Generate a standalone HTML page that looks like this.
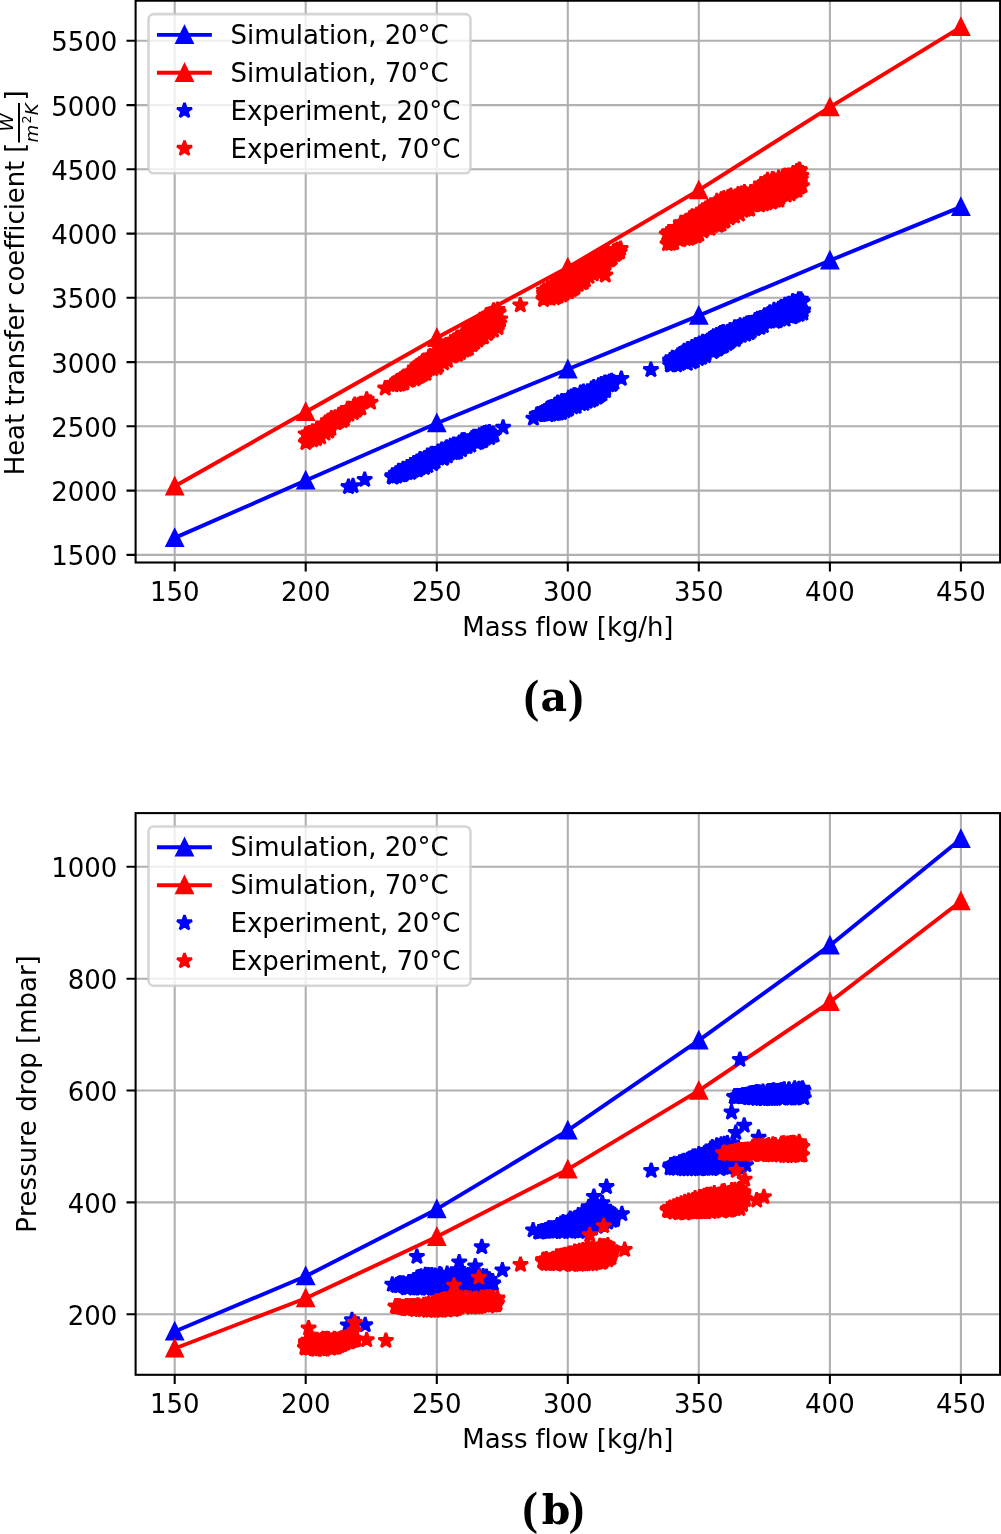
<!DOCTYPE html>
<html lang="en"><head><meta charset="utf-8"><title>Heat transfer coefficient and pressure drop vs mass flow</title>
<style>html,body{margin:0;padding:0;background:#fff}svg{display:block}text{font-family:"DejaVu Sans","Liberation Sans",sans-serif;font-size:26px;fill:#000;font-variant-ligatures:none;font-feature-settings:"liga" 0,"clig" 0;font-kerning:none}.cap{font-family:"Liberation Serif","DejaVu Serif",serif;font-weight:bold}</style>
</head><body>
<svg width="1001" height="1534" viewBox="0 0 1001 1534">
<defs>
<marker id="mb" markerUnits="userSpaceOnUse" markerWidth="20" markerHeight="20" refX="0" refY="0" viewBox="-10 -10 20 20" overflow="visible" orient="0"><path d="M0.00,-7.80 1.75,-2.41 7.42,-2.41 2.83,0.92 4.58,6.31 0.00,2.98 -4.58,6.31 -2.83,0.92 -7.42,-2.41 -1.75,-2.41Z" fill="#0000ff" stroke="#0000ff" stroke-width="2.6" stroke-linejoin="bevel"/></marker>
<marker id="mr" markerUnits="userSpaceOnUse" markerWidth="20" markerHeight="20" refX="0" refY="0" viewBox="-10 -10 20 20" overflow="visible" orient="0"><path d="M0.00,-7.80 1.75,-2.41 7.42,-2.41 2.83,0.92 4.58,6.31 0.00,2.98 -4.58,6.31 -2.83,0.92 -7.42,-2.41 -1.75,-2.41Z" fill="#ff0000" stroke="#ff0000" stroke-width="2.6" stroke-linejoin="bevel"/></marker>
<clipPath id="c0"><rect x="135.6" y="0.7" width="864.5" height="561.8"/></clipPath>
<clipPath id="c1"><rect x="135.6" y="813.1" width="864.5" height="561.7"/></clipPath>
</defs>
<rect width="1001" height="1534" fill="#fff"/>
<g clip-path="url(#c0)">
<path d="M174.7,0.7 V562.5 M305.7,0.7 V562.5 M436.8,0.7 V562.5 M567.8,0.7 V562.5 M698.8,0.7 V562.5 M829.9,0.7 V562.5 M960.9,0.7 V562.5 M135.6,554.9 H1000.1 M135.6,490.6 H1000.1 M135.6,426.3 H1000.1 M135.6,362.1 H1000.1 M135.6,297.8 H1000.1 M135.6,233.6 H1000.1 M135.6,169.3 H1000.1 M135.6,105.1 H1000.1 M135.6,40.8 H1000.1" stroke="#b0b0b0" stroke-width="2.08" fill="none"/>
<polyline points="174.7,537.9 305.7,480.5 436.8,423.2 567.8,369.3 698.8,315.6 829.9,260.5 960.9,206.9" fill="none" stroke="#0000ff" stroke-width="3.9" stroke-linejoin="round"/>
<path d="M174.7,530.1 l-7.8,15.6 h15.6Z" fill="#0000ff" stroke="#0000ff" stroke-width="2.6" stroke-linejoin="miter"/>
<path d="M305.7,472.7 l-7.8,15.6 h15.6Z" fill="#0000ff" stroke="#0000ff" stroke-width="2.6" stroke-linejoin="miter"/>
<path d="M436.8,415.4 l-7.8,15.6 h15.6Z" fill="#0000ff" stroke="#0000ff" stroke-width="2.6" stroke-linejoin="miter"/>
<path d="M567.8,361.5 l-7.8,15.6 h15.6Z" fill="#0000ff" stroke="#0000ff" stroke-width="2.6" stroke-linejoin="miter"/>
<path d="M698.8,307.8 l-7.8,15.6 h15.6Z" fill="#0000ff" stroke="#0000ff" stroke-width="2.6" stroke-linejoin="miter"/>
<path d="M829.9,252.7 l-7.8,15.6 h15.6Z" fill="#0000ff" stroke="#0000ff" stroke-width="2.6" stroke-linejoin="miter"/>
<path d="M960.9,199.1 l-7.8,15.6 h15.6Z" fill="#0000ff" stroke="#0000ff" stroke-width="2.6" stroke-linejoin="miter"/>
<polyline points="174.7,486.3 305.7,412.0 436.8,337.8 567.8,267.4 698.8,190.1 829.9,107.2 960.9,27.1" fill="none" stroke="#ff0000" stroke-width="3.9" stroke-linejoin="round"/>
<path d="M174.7,478.5 l-7.8,15.6 h15.6Z" fill="#ff0000" stroke="#ff0000" stroke-width="2.6" stroke-linejoin="miter"/>
<path d="M305.7,404.2 l-7.8,15.6 h15.6Z" fill="#ff0000" stroke="#ff0000" stroke-width="2.6" stroke-linejoin="miter"/>
<path d="M436.8,330.0 l-7.8,15.6 h15.6Z" fill="#ff0000" stroke="#ff0000" stroke-width="2.6" stroke-linejoin="miter"/>
<path d="M567.8,259.6 l-7.8,15.6 h15.6Z" fill="#ff0000" stroke="#ff0000" stroke-width="2.6" stroke-linejoin="miter"/>
<path d="M698.8,182.3 l-7.8,15.6 h15.6Z" fill="#ff0000" stroke="#ff0000" stroke-width="2.6" stroke-linejoin="miter"/>
<path d="M829.9,99.4 l-7.8,15.6 h15.6Z" fill="#ff0000" stroke="#ff0000" stroke-width="2.6" stroke-linejoin="miter"/>
<path d="M960.9,19.2 l-7.8,15.6 h15.6Z" fill="#ff0000" stroke="#ff0000" stroke-width="2.6" stroke-linejoin="miter"/>
<g fill="#0000ff" stroke="#0000ff" stroke-width="2.6" stroke-linejoin="round">
<polygon points="390.5,474.6 390.5,475.3 406.9,465.4 424.9,455.6 442.9,447.5 460.9,439.4 478.9,433.1 491.4,429.5 495.0,431.3 495.0,430.5 495.0,431.5 495.0,432.7 491.4,437.2 478.9,442.6 460.9,450.6 442.9,458.7 424.9,467.7 406.9,474.0 390.5,478.5 390.5,475.6"/>
<polygon points="535.0,417.0 537.4,413.6 547.0,407.4 563.0,398.7 578.9,391.5 594.9,385.1 607.7,380.3 616.0,378.7 616.0,378.5 616.0,379.5 616.0,381.7 607.7,389.7 594.9,399.2 578.9,405.6 563.0,412.8 547.0,415.2 537.4,414.6 535.0,418.0"/>
<polygon points="667.9,361.1 667.9,360.5 684.0,349.4 701.0,340.9 717.9,332.5 734.9,325.7 751.9,319.7 768.9,311.2 785.9,301.9 802.9,296.8 805.0,301.7 805.0,302.7 802.9,313.5 785.9,319.5 768.9,322.8 751.9,332.2 734.9,339.8 717.9,349.2 701.0,358.5 684.0,365.3 667.9,365.3 667.9,362.1"/>
</g>
<polyline points="348.5,486.8 353.0,485.9 364.7,479.6 503.1,427.5 621.3,378.6 650.9,369.8 533.4,418.5 418.6,468.8 424.9,465.9 407.1,467.1 483.1,439.3 423.6,461.8 405.1,470.7 431.8,454.0 449.6,453.4 424.4,467.6 416.9,462.4 484.3,433.1 489.1,433.0 480.7,437.7 397.0,474.6 485.5,438.4 489.7,437.9 493.1,433.6 437.1,453.4 447.1,449.7 420.1,459.2 453.6,444.6 412.9,467.1 475.4,440.8 470.2,441.0 430.1,458.8 403.0,469.6 435.1,461.7 478.8,442.5 464.7,442.2 427.8,462.2 417.0,461.7 422.9,464.2 489.2,434.4 435.0,455.9 470.4,442.2 472.2,438.7 412.2,466.4 494.0,435.2 471.9,438.2 412.1,468.0 438.1,454.3 423.0,466.6 420.2,460.0 467.1,442.0 398.6,471.0 457.6,447.4 407.3,472.9 476.8,441.8 410.6,469.7 428.0,457.5 422.9,459.6 392.4,476.0 396.6,475.2 475.9,437.0 471.8,439.7 413.9,463.1 493.0,433.9 405.4,472.3 433.0,462.5 426.7,457.9 484.5,438.1 434.4,461.2 405.1,472.7 493.6,435.0 417.3,468.8 475.7,438.6 473.7,436.9 444.0,457.3 483.6,437.4 461.1,443.0 427.5,455.6 488.0,436.4 489.5,432.1 456.7,448.0 431.2,458.3 403.2,469.0 438.0,451.7 452.3,448.1 451.5,451.5 400.2,475.2 402.5,474.8 484.7,438.2 482.2,437.9 492.3,435.7 444.5,454.8 421.6,464.4 410.4,471.4 476.1,440.6 463.7,441.7 411.1,472.1 489.3,434.7 433.8,454.3 409.7,468.0 415.2,466.2 395.7,475.4 470.6,445.1 408.3,468.7 413.7,470.4 417.0,463.1 434.8,454.2 398.8,471.9 474.7,437.5 462.8,444.2 474.3,440.6 457.7,452.2 460.9,447.2 413.7,470.4 448.1,449.2 424.8,464.6 459.2,442.7 462.0,440.5 420.4,467.9 410.6,465.1 446.2,455.0 420.9,461.6 450.3,445.9 423.6,464.3 488.3,435.1 396.5,474.2 441.4,453.9 426.9,461.7 461.4,444.0 472.3,438.9 463.6,440.8 454.9,446.0 470.6,445.2 470.7,439.9 424.4,467.5 479.2,438.2 392.3,477.0 419.2,461.2 414.6,465.3 438.7,458.4 442.5,458.0 403.4,474.1 427.8,465.8 400.9,471.1 476.0,437.9 395.7,474.0 458.7,447.3 424.7,458.3 479.3,435.5 458.8,448.5 478.2,437.4 478.6,437.2 418.0,464.8 475.7,439.9 464.6,446.9 417.1,466.8 431.2,454.8 462.1,447.4 441.7,449.6 482.0,434.1 481.2,441.2 431.6,457.7 447.4,456.2 410.5,472.6 398.9,472.7 400.9,473.7 492.7,434.3 396.7,476.1 445.3,448.9 443.3,458.6 486.2,432.6 408.0,471.7 396.6,476.1 404.6,471.3 461.4,450.0 473.7,438.6 393.5,476.5 419.5,467.9 446.7,447.5 449.0,449.7 461.9,448.2 396.5,475.8 465.2,442.8 451.6,448.6 457.7,446.2 449.8,452.7 449.0,451.7 396.2,473.4 443.2,450.6 415.1,463.5 401.3,474.9 427.5,460.6 464.2,440.1 403.8,471.8 393.0,477.5 401.1,474.8 432.0,461.4 450.4,451.2 488.2,433.5 427.7,460.1 431.6,461.3 430.7,454.9 410.6,465.8 453.1,446.3 452.8,452.8 455.3,452.9 442.8,451.9 482.6,441.0 432.6,464.0 409.4,469.4 421.5,463.9 453.2,447.7 467.0,446.8 417.3,470.1 476.9,442.9 557.7,409.7 605.0,382.8 537.1,414.9 601.6,389.9 550.3,413.7 551.2,407.2 598.2,394.3 571.5,399.2 564.1,405.5 548.4,414.3 583.5,394.7 591.8,398.2 571.2,396.8 538.4,414.5 609.4,383.6 568.6,408.8 583.5,391.6 547.7,409.0 564.2,404.2 611.7,381.0 561.3,404.3 564.9,401.1 551.5,413.7 596.6,396.9 564.4,405.6 586.9,397.9 568.6,397.9 562.4,406.2 604.7,388.3 600.3,392.2 547.9,408.6 548.6,414.6 554.2,413.8 581.1,393.4 540.4,413.9 605.7,388.2 556.1,413.6 537.9,414.6 558.4,413.3 581.4,400.9 554.3,407.2 581.3,394.9 585.2,393.1 561.0,406.1 605.5,390.9 605.3,389.4 592.6,390.7 611.8,384.6 608.9,385.2 602.0,391.8 601.7,384.8 557.7,402.8 574.4,402.6 538.3,414.5 536.7,415.0 576.1,406.6 547.8,414.9 573.1,397.8 546.7,409.4 591.3,396.4 592.2,391.8 564.4,406.7 564.8,403.7 584.7,400.8 595.8,389.5 548.9,408.0 548.4,409.5 611.6,381.5 561.3,408.8 601.9,394.1 613.4,382.6 606.0,384.8 587.4,391.7 556.5,406.1 552.2,409.6 594.4,390.3 598.1,390.9 589.5,399.5 579.3,401.6 598.5,385.5 575.8,405.5 591.4,388.8 585.7,399.3 590.9,399.5 561.7,411.2 600.1,388.4 560.9,402.9 590.8,400.7 543.5,413.3 582.2,393.4 606.7,382.9 607.3,383.8 541.6,414.1 554.8,405.2 540.3,413.9 564.8,409.9 582.1,393.5 561.4,412.8 601.8,387.2 613.1,382.2 581.1,400.3 604.5,383.2 564.3,403.7 567.7,409.7 592.7,398.9 547.8,410.9 587.1,401.6 613.9,382.5 542.4,412.8 598.8,387.0 555.2,411.9 585.3,393.4 593.8,387.2 544.3,414.0 583.3,401.7 576.4,397.7 599.5,395.6 582.1,395.5 542.4,413.9 612.0,384.4 580.5,392.6 579.1,402.3 572.7,407.2 555.7,412.5 538.8,414.3 562.7,406.3 575.6,395.7 584.8,398.6 576.5,400.6 564.2,408.3 561.8,401.2 565.0,411.0 593.5,399.2 601.2,384.1 550.8,414.4 580.6,404.0 568.1,402.8 604.5,388.9 609.5,381.6 573.8,395.7 584.0,403.6 555.5,404.8 553.0,410.1 544.6,411.2 574.3,395.5 597.7,396.8 611.0,384.1 596.9,397.4 603.7,390.6 611.4,383.0 564.7,406.0 601.9,387.5 788.7,306.1 715.6,337.2 722.6,332.7 780.9,318.2 784.9,311.9 788.7,303.9 716.9,347.2 683.1,352.8 760.4,318.1 799.1,311.4 706.2,352.3 709.0,350.3 780.9,317.5 714.3,343.7 684.1,361.6 716.3,337.2 777.2,316.8 793.2,301.7 687.3,363.7 724.0,332.8 745.9,331.2 734.6,327.4 720.0,346.8 723.3,332.4 798.7,309.8 694.2,349.9 752.4,324.1 730.1,330.3 791.5,306.8 753.0,328.2 760.0,327.7 795.8,303.5 741.2,335.6 776.8,310.9 720.6,345.8 696.5,353.5 673.7,360.6 775.0,321.6 782.1,307.7 737.4,330.8 772.4,319.3 750.5,326.7 792.7,301.5 722.3,339.4 790.6,313.7 673.0,362.2 671.6,364.8 696.6,351.2 696.8,346.5 670.4,365.0 693.0,360.7 767.0,318.0 717.3,349.3 683.2,352.6 762.3,319.0 746.9,325.6 716.8,340.2 691.9,347.3 786.2,305.6 734.9,337.0 711.3,338.1 769.9,312.5 776.9,315.9 715.6,349.4 792.9,310.0 785.1,319.5 727.6,332.3 688.9,357.1 774.5,320.9 802.5,301.8 714.4,339.0 700.6,345.7 705.9,354.0 729.0,342.3 758.0,326.6 751.9,322.9 796.1,302.1 701.7,355.9 745.5,334.5 677.3,357.0 682.1,358.2 672.4,364.6 784.1,308.3 712.9,340.2 792.3,304.7 689.5,349.5 691.7,362.2 761.0,322.4 738.0,336.1 741.5,326.8 719.3,334.1 798.1,307.9 746.5,332.4 745.1,327.3 790.1,314.0 790.9,309.7 764.7,319.7 688.3,356.3 771.1,313.1 757.4,319.0 704.0,355.1 739.2,328.5 703.3,354.5 778.2,313.1 716.5,335.2 748.9,332.9 782.6,308.5 702.7,353.3 676.4,358.7 762.5,320.5 771.5,314.4 728.8,334.6 672.3,358.0 799.5,310.1 801.8,301.5 735.2,339.9 731.4,334.6 781.1,307.3 724.1,340.6 795.5,315.4 793.9,302.4 795.3,306.9 773.8,320.6 712.6,351.8 729.1,341.2 685.7,359.8 719.4,343.2 759.1,319.3 759.2,325.2 677.7,356.6 701.5,357.7 751.2,331.2 780.4,319.5 744.2,325.6 770.7,315.7 696.2,354.4 747.7,326.8 786.4,310.9 755.8,321.1 742.4,329.5 685.4,353.4 728.4,336.4 730.8,331.9 676.9,362.1 690.1,351.7 784.1,307.5 780.4,308.1 706.7,342.1 752.3,328.5 695.2,345.5 747.4,326.4 720.5,347.0 755.1,320.1 737.9,331.2 793.2,304.2 713.6,337.2 740.1,325.4 677.3,359.5 746.7,323.6 743.3,333.4 699.3,343.7 670.2,362.4 781.9,311.6 795.5,313.2 711.5,341.1 744.5,325.6 748.8,323.3 749.2,330.8 679.7,363.1 681.4,354.3 723.9,332.8 770.1,318.6 763.3,325.8 802.9,310.1 739.4,333.7 774.0,309.9 691.5,355.1 780.7,308.5 675.2,363.6 765.6,317.1 749.2,327.2 802.8,313.3 769.3,313.8 725.5,339.1 720.5,333.7 770.3,317.8 731.7,334.8 687.6,349.1 733.7,333.9 749.3,324.1 797.0,313.7 784.9,305.0 709.5,339.3 694.3,360.8 682.0,361.5 764.6,315.5 760.5,322.6 703.1,346.9 693.5,358.1 722.0,343.1 679.9,363.0 670.1,360.3 709.4,344.1 719.2,338.5 782.7,316.8 702.6,341.9 679.7,360.8 713.1,338.5 676.7,365.1 696.0,351.1 706.0,342.1 692.3,360.9 708.6,349.6 754.1,324.1 775.5,316.6 713.3,336.5 733.6,337.8 764.5,321.9 767.6,317.2 759.7,324.3 791.6,317.1 784.4,312.8 735.5,338.2 778.5,312.0 776.7,314.8 775.7,313.2 698.4,358.8 769.9,317.2 796.3,304.0 730.4,339.6 721.1,341.1 778.0,313.8 702.3,353.4 795.2,308.7 675.2,363.7 761.2,323.9 683.1,359.0 694.6,350.3 778.0,312.3 708.9,342.1 760.4,318.5 729.5,339.3 749.7,332.6 684.1,350.9 789.1,312.9 798.5,299.4 702.5,351.2 723.6,345.8 706.3,343.9 777.3,320.9 714.1,342.7 736.7,337.5 776.5,320.9 788.7,314.0 737.8,327.1 789.1,316.4 677.2,363.5 775.7,317.4 763.3,320.0 700.3,354.6 677.0,362.0 670.6,365.1 786.0,308.1 731.5,330.8 756.8,327.5 727.0,343.9 720.4,342.4 732.9,339.3 792.7,301.6 718.0,343.9 699.6,357.1 722.0,343.6 799.0,314.6 764.9,317.7 793.0,316.7 721.9,332.9 748.5,327.2 718.2,348.5 758.3,319.7 699.5,351.8 786.9,305.7 798.9,314.1 778.5,308.9 754.7,329.0 720.6,333.2 781.7,307.8 770.3,313.9 685.3,356.9 755.1,328.7 681.4,356.0 730.0,338.4 803.0,310.4 696.6,345.4 734.4,338.2 708.5,344.1 709.0,341.7 797.4,307.7 781.4,317.2 705.5,355.8 679.8,354.3 800.4,308.9 676.4,358.7 781.3,309.5 730.4,341.2 715.0,344.5 687.2,357.7 768.3,314.7 674.1,361.3 792.5,310.1 737.6,336.2 735.9,333.4 797.6,305.4 696.1,348.2 671.8,359.6 740.9,329.9 722.5,346.4 709.3,340.3 725.0,340.3 760.5,320.7 787.1,304.9 779.9,317.5 801.0,299.5 755.4,322.4 739.9,331.4 770.1,321.3 741.4,329.3 713.9,350.9 744.4,325.0 761.3,318.1 682.6,360.4 749.5,328.0 785.5,316.3 766.3,320.3 713.9,348.8 738.9,329.3 677.2,362.1" fill="none" stroke="none" marker-start="url(#mb)" marker-mid="url(#mb)" marker-end="url(#mb)"/>
<g fill="#ff0000" stroke="#ff0000" stroke-width="2.6" stroke-linejoin="round">
<polygon points="304.4,437.8 305.6,432.8 320.0,425.6 332.0,416.1 344.0,411.3 350.0,406.5 356.0,403.5 362.0,402.5 362.0,403.5 362.0,404.5 362.0,409.5 356.0,412.0 350.0,415.0 344.0,419.8 332.0,428.2 320.0,437.8 305.6,443.2 304.4,438.8"/>
<polygon points="391.0,385.5 391.0,383.6 402.0,376.4 418.0,363.6 437.1,349.2 449.9,341.3 465.9,330.9 481.9,315.7 494.7,307.7 502.0,309.3 502.0,312.5 502.0,319.5 502.0,323.5 494.7,329.9 481.9,337.8 465.9,350.6 449.9,358.6 437.1,367.4 418.0,377.8 402.0,384.2 391.0,385.8 391.0,386.5"/>
<polygon points="541.4,293.0 541.4,290.2 555.0,281.8 569.0,273.5 582.9,265.1 596.9,256.7 610.9,249.7 620.7,246.9 623.0,248.0 623.0,249.0 620.7,250.7 610.9,259.1 596.9,273.0 582.9,282.8 569.0,291.9 555.0,298.2 541.4,300.3 541.4,294.0"/>
<polygon points="665.3,243.9 667.0,232.3 684.0,219.5 701.0,210.2 717.9,199.1 734.9,193.2 745.1,189.8 755.3,191.5 762.1,179.6 779.1,176.2 794.4,171.1 802.9,166.0 805.0,172.0 805.0,177.7 802.9,188.7 794.4,191.2 779.1,200.6 762.1,204.8 755.3,207.4 745.1,211.6 734.9,216.7 717.9,226.1 701.0,234.5 684.0,240.5 667.0,244.7 665.3,244.9"/>
</g>
<polyline points="349.3,409.0 312.4,431.4 341.5,413.6 308.8,433.2 349.4,412.1 334.5,422.5 343.9,413.3 355.8,408.5 308.9,440.5 339.2,418.8 329.4,425.4 346.1,413.8 346.2,414.1 356.0,410.6 357.5,408.7 343.0,417.2 352.5,409.8 309.9,434.1 355.9,408.4 320.3,430.2 358.2,405.1 305.7,434.1 325.0,433.3 360.9,408.1 312.9,438.9 316.8,428.6 316.4,437.8 348.9,414.4 330.3,426.4 356.7,407.7 353.7,406.5 336.8,420.5 327.9,421.0 350.5,410.1 342.2,420.9 330.4,425.2 336.3,423.0 317.9,431.1 338.7,415.8 345.8,412.4 318.6,428.7 315.1,433.5 330.0,420.3 327.7,425.1 312.7,440.1 311.2,434.1 338.7,421.4 316.4,438.8 344.4,419.2 315.0,433.0 314.3,436.4 320.6,437.2 345.1,416.2 343.1,415.8 357.6,408.9 305.9,442.8 310.1,436.8 353.3,412.8 326.5,428.6 321.2,427.6 359.7,404.8 335.0,417.4 357.1,407.1 345.7,413.5 328.7,431.4 338.9,415.0 324.4,424.9 325.1,428.3 332.2,421.7 314.0,435.3 306.8,441.1 339.2,417.4 331.4,418.2 330.9,428.6 316.0,431.9 354.2,408.3 337.4,421.4 366.7,399.4 370.5,402.5 354.8,404.7 347.5,409.0 385.2,388.3 520.3,305.2 605.3,275.3 438.1,365.0 482.8,320.2 410.5,380.0 400.7,380.2 472.0,342.1 428.8,357.0 429.6,368.8 421.7,374.7 476.1,324.3 413.8,371.9 454.1,341.2 397.2,381.1 448.3,351.1 403.9,376.7 446.5,347.7 456.8,337.9 423.4,373.8 419.5,367.4 433.2,356.3 498.7,312.5 489.9,314.2 461.9,336.4 478.5,335.3 457.5,354.6 394.6,383.8 446.8,353.2 471.7,342.2 471.2,331.2 452.3,348.3 478.7,323.4 403.5,383.4 453.8,340.5 445.3,345.7 460.1,347.8 474.6,342.7 420.2,365.6 423.5,361.6 441.5,353.5 393.2,384.0 422.3,362.5 447.0,357.8 436.9,367.9 470.6,340.0 461.0,349.4 427.7,368.3 488.9,316.9 397.1,381.6 497.9,327.8 477.1,339.5 479.3,336.2 438.6,365.5 483.0,319.0 466.8,339.3 421.5,364.2 408.0,377.6 440.2,349.2 426.7,370.6 468.4,348.5 488.1,327.7 486.4,328.1 401.8,383.1 399.6,384.3 493.9,320.9 460.5,352.8 486.2,315.4 396.9,384.8 480.8,327.0 492.4,325.3 480.8,323.5 483.1,319.3 392.8,384.4 465.3,333.2 415.3,378.1 415.4,373.9 495.2,312.0 416.3,377.7 393.4,384.8 471.6,337.4 470.1,329.3 425.4,362.8 451.1,356.2 480.9,337.7 436.8,352.1 470.4,328.5 397.4,384.0 472.0,331.4 406.8,378.5 414.8,368.1 418.9,365.2 436.2,357.0 487.8,330.1 465.0,345.3 487.7,333.4 466.2,344.6 404.0,378.2 441.1,352.6 461.8,339.0 401.7,383.2 468.7,341.4 400.6,379.2 471.5,335.6 443.6,363.1 422.1,362.5 431.5,361.5 402.4,380.1 434.6,357.8 426.3,363.2 499.2,323.4 411.6,372.9 497.5,309.7 404.5,377.1 455.7,347.7 421.8,364.0 400.5,383.9 404.0,382.1 472.3,344.8 421.0,375.5 432.8,360.1 472.7,331.8 492.4,313.2 407.8,376.1 442.7,347.0 414.7,379.1 452.8,351.0 447.4,360.6 493.5,330.4 419.0,376.6 423.0,364.6 489.7,318.2 426.1,361.7 392.9,384.9 426.0,364.1 409.7,375.9 446.0,358.5 407.0,375.8 407.0,376.8 475.2,335.5 477.5,340.5 466.7,349.4 398.6,380.7 430.0,356.3 445.8,351.4 400.6,382.4 463.6,335.0 465.4,337.9 489.5,331.7 469.7,345.1 393.1,384.4 451.1,342.5 399.9,383.6 417.4,365.9 410.1,375.5 445.0,346.2 417.2,377.1 454.1,351.4 435.6,359.7 449.4,346.8 441.2,353.1 473.5,337.8 444.2,357.2 398.1,381.2 413.1,374.0 400.7,380.8 483.5,337.1 455.5,353.8 447.7,347.2 452.2,356.1 403.6,382.2 397.0,383.9 497.9,326.0 500.2,319.1 473.7,337.4 472.3,327.7 431.5,367.8 400.5,380.1 478.3,339.3 417.6,376.5 453.7,355.4 435.0,360.4 481.0,328.4 408.8,380.6 400.3,382.9 493.6,310.4 488.7,325.8 443.8,354.6 414.3,373.6 487.2,333.9 426.0,373.7 464.0,350.5 408.6,374.9 468.5,330.1 446.2,345.3 474.4,329.9 442.9,349.0 407.7,377.7 497.4,319.5 459.8,345.1 405.8,378.2 432.9,368.8 419.6,364.1 463.7,336.3 399.2,380.9 460.6,351.6 392.9,384.9 409.3,378.5 394.6,383.4 448.2,349.2 402.3,378.0 493.3,312.3 424.2,366.7 563.0,288.0 586.1,265.1 583.2,282.7 568.8,275.4 590.0,270.8 562.0,295.3 579.6,269.4 607.4,260.2 574.0,281.0 600.3,267.0 562.4,279.9 583.6,272.3 574.7,285.4 601.6,266.3 578.2,284.6 615.8,251.6 599.8,268.6 606.0,263.4 602.2,257.4 576.4,281.3 589.0,276.7 604.6,256.8 576.2,284.0 550.6,292.3 554.6,298.2 589.7,272.0 578.0,276.7 604.5,258.0 562.4,282.8 610.1,259.6 543.6,299.8 602.8,264.4 595.1,261.1 548.0,288.6 597.5,272.6 607.9,254.4 581.4,271.3 555.9,293.1 553.1,290.4 583.9,280.7 604.6,265.5 550.3,291.7 546.1,297.2 591.6,271.6 580.1,270.0 585.4,280.2 567.5,279.2 580.8,268.7 587.4,269.7 616.8,253.7 614.7,251.0 563.4,290.7 620.6,248.7 583.1,267.3 580.2,281.4 568.9,291.5 568.6,291.6 610.8,254.7 557.4,281.8 558.5,283.1 596.2,260.1 605.3,259.7 574.9,285.9 596.1,261.4 604.8,264.3 571.8,289.8 613.2,252.3 612.2,257.7 578.9,271.9 608.6,253.4 543.6,298.8 583.0,267.2 564.1,293.6 612.4,254.5 590.6,267.0 546.3,291.7 572.1,281.5 600.0,259.3 547.6,288.3 550.2,298.7 593.1,261.9 546.3,294.6 600.8,258.8 571.1,275.2 550.1,294.0 615.5,251.8 548.2,291.5 581.6,282.8 598.6,263.5 602.3,255.9 554.5,287.7 593.2,274.0 574.9,287.4 593.2,260.2 551.2,288.1 543.9,290.4 567.2,291.8 615.9,253.5 544.0,293.1 619.2,250.6 617.5,249.9 611.3,258.4 601.5,256.3 574.1,288.3 607.1,259.9 554.2,284.5 582.5,272.9 617.1,249.9 582.2,268.7 544.9,295.6 561.4,286.0 560.3,280.2 571.5,276.7 618.1,252.2 592.9,261.9 575.6,271.6 552.4,287.4 560.2,286.4 558.5,292.7 599.7,265.5 604.3,255.4 579.1,271.5 567.5,285.2 600.5,266.4 551.6,291.8 560.1,286.0 606.3,260.0 555.1,296.3 589.4,264.4 613.8,254.1 575.1,275.9 564.8,281.0 593.2,274.2 558.2,296.3 619.6,252.2 610.7,259.1 594.1,262.9 608.8,260.2 615.1,254.8 544.3,295.2 568.1,281.5 545.7,294.7 556.5,296.9 571.0,280.7 554.2,286.7 608.9,254.8 575.9,280.3 582.8,270.4 563.8,279.4 552.7,288.0 592.1,265.7 588.3,268.4 606.9,252.7 607.6,254.4 698.7,225.8 730.0,216.6 686.7,229.3 768.1,201.7 784.6,176.0 780.3,191.5 731.1,216.2 775.7,183.0 791.6,186.1 766.8,203.2 799.7,183.5 787.3,186.3 702.9,220.2 715.4,223.4 711.5,217.5 725.6,211.5 759.3,188.9 675.1,233.1 680.9,223.0 691.6,218.6 714.2,206.8 781.9,191.3 735.2,208.3 680.9,234.8 798.2,172.3 774.3,193.1 766.3,182.6 719.8,214.7 780.6,195.3 750.4,202.7 678.7,238.3 765.4,187.0 796.2,175.5 669.1,232.3 752.6,192.7 743.9,199.9 787.0,190.9 721.5,199.7 678.6,234.2 796.1,188.8 677.3,236.2 738.1,194.3 726.8,215.7 773.9,179.7 801.2,175.8 742.7,210.6 771.0,182.2 692.8,236.7 779.8,197.8 753.7,193.2 732.4,205.1 798.4,184.3 788.5,186.8 733.1,215.2 706.9,227.3 800.8,179.2 794.3,173.6 746.7,208.9 763.7,191.6 762.6,189.5 756.2,203.4 710.1,228.7 671.6,235.5 675.7,236.3 752.6,194.1 753.5,199.9 784.4,183.7 786.2,195.3 789.3,191.9 773.9,191.7 799.9,182.4 724.0,207.8 687.8,237.0 710.2,212.8 782.0,180.1 773.6,200.4 734.4,202.5 683.2,236.9 669.8,232.1 790.1,194.1 696.3,236.1 701.6,221.0 774.4,194.6 735.3,202.8 731.7,207.6 783.5,177.5 782.8,176.7 737.8,195.9 785.5,178.3 708.1,223.7 764.8,192.5 728.9,204.0 673.7,242.7 701.1,213.9 799.8,170.1 749.6,209.2 773.9,182.0 730.1,199.6 767.5,180.0 707.9,207.3 669.4,240.6 791.5,180.2 775.7,186.7 743.7,205.3 794.8,190.5 794.1,177.4 705.6,208.7 723.8,221.2 746.9,203.7 755.1,198.0 702.9,231.1 689.5,218.5 671.6,239.7 716.4,224.9 798.3,175.2 788.1,182.3 723.9,198.3 754.9,202.0 700.0,228.7 702.8,229.8 695.9,217.3 692.5,217.4 688.3,230.7 779.8,184.9 769.3,201.3 721.1,224.2 703.4,218.7 772.8,186.9 785.2,187.7 745.3,202.1 772.9,197.6 731.8,205.0 774.9,186.1 691.2,237.4 768.1,183.8 753.8,194.0 778.6,177.8 680.8,226.6 714.0,216.0 747.0,207.1 673.1,243.0 695.1,223.2 774.2,200.4 787.5,179.7 667.5,244.0 711.5,208.6 704.0,221.4 680.9,239.9 692.9,235.5 738.1,202.4 747.3,195.2 693.2,219.8 789.5,176.3 729.1,197.0 729.4,214.1 707.1,220.6 670.5,243.6 707.6,228.0 669.0,232.4 796.6,171.3 715.5,212.2 674.0,236.5 802.0,186.0 722.0,211.5 675.0,234.7 788.8,190.2 696.6,218.0 737.5,197.0 709.1,216.6 780.4,183.1 674.7,232.0 725.1,220.7 743.6,196.4 717.3,221.7 776.2,187.2 729.7,198.5 760.9,184.2 742.5,209.1 702.2,217.8 772.5,195.4 738.8,198.0 706.9,210.0 702.7,210.4 703.1,215.4 757.5,190.0 745.3,195.0 686.5,224.3 772.3,179.2 722.8,215.3 760.3,196.9 760.2,187.0 750.7,192.1 760.3,192.5 793.1,173.1 763.6,204.1 688.3,223.7 685.4,222.5 775.3,195.2 677.9,230.7 749.3,209.5 748.3,204.3 793.8,176.2 724.1,221.5 666.8,234.3 783.6,191.8 729.2,218.2 764.2,195.4 678.7,239.7 724.2,217.2 794.0,178.9 784.3,186.3 675.2,228.4 778.2,188.5 730.9,195.8 799.4,187.3 774.9,182.4 696.0,228.9 725.7,213.1 739.5,214.4 688.9,224.9 668.6,232.8 788.0,175.6 733.3,207.8 775.8,182.0 775.9,200.4 695.9,217.8 719.4,224.7 743.9,204.7 753.2,204.8 703.1,215.7 782.1,195.0 771.6,198.1 745.4,200.1 772.0,184.0 777.0,193.7 754.1,205.1 764.8,182.7 672.0,240.3 798.7,171.8 797.4,183.8 797.8,175.6 798.4,177.1 702.7,228.4 769.4,198.0 789.1,190.4 766.4,184.1 698.2,229.2 755.7,204.4 774.8,194.4 721.2,202.4 712.9,225.9 762.4,201.1 785.0,176.0 743.2,195.6 750.1,203.9 700.4,218.8 724.1,208.6 741.1,196.0 688.9,238.7 795.6,177.2 759.6,198.3 752.2,197.9 726.3,207.6 720.0,212.1 775.6,182.6 765.5,201.1 718.0,203.3 706.9,209.3 729.8,208.6 718.0,225.6 785.7,185.1 692.3,216.5 704.3,229.2 773.5,194.2 771.8,202.3 744.4,192.3 749.3,199.2 776.9,195.7 753.9,202.7 752.4,203.6 735.7,196.5 685.6,238.9 734.9,206.5 754.3,204.5 750.0,203.5 792.3,191.9 698.9,226.3 734.5,216.2 726.3,202.3 696.3,229.5 699.9,212.6 745.9,193.9 774.2,191.6 677.0,227.7 797.1,190.4 769.1,189.5 738.1,203.8 720.8,221.6 686.0,229.6 745.4,209.6 768.1,190.1 778.8,200.5 781.6,187.2 672.2,232.6 761.4,194.3 684.1,237.1 724.5,205.9 759.8,205.2 741.3,193.6 695.2,220.4 759.4,195.1 762.2,189.4 699.4,216.8 669.8,233.1 754.1,205.0 799.2,169.6 757.7,204.5 716.9,200.9 727.9,197.5 678.5,235.5 729.0,211.0 711.2,206.2 691.4,217.5 780.3,190.7 721.2,199.5 796.7,183.7 701.1,221.2 698.8,234.4 670.4,233.8 754.0,194.4 768.0,201.0 781.3,181.3 734.9,197.1 774.5,199.5 769.8,197.0 781.6,185.1" fill="none" stroke="none" marker-start="url(#mr)" marker-mid="url(#mr)" marker-end="url(#mr)"/>
</g>
<rect x="135.6" y="0.7" width="864.5" height="561.8" fill="none" stroke="#000" stroke-width="2.08"/>
<path d="M174.7,562.5 v9.1 M305.7,562.5 v9.1 M436.8,562.5 v9.1 M567.8,562.5 v9.1 M698.8,562.5 v9.1 M829.9,562.5 v9.1 M960.9,562.5 v9.1 M135.6,554.9 h-9.1 M135.6,490.6 h-9.1 M135.6,426.3 h-9.1 M135.6,362.1 h-9.1 M135.6,297.8 h-9.1 M135.6,233.6 h-9.1 M135.6,169.3 h-9.1 M135.6,105.1 h-9.1 M135.6,40.8 h-9.1" stroke="#000" stroke-width="2.08" fill="none"/>
<text x="174.7" y="600.6" text-anchor="middle">150</text>
<text x="305.7" y="600.6" text-anchor="middle">200</text>
<text x="436.8" y="600.6" text-anchor="middle">250</text>
<text x="567.8" y="600.6" text-anchor="middle">300</text>
<text x="698.8" y="600.6" text-anchor="middle">350</text>
<text x="829.9" y="600.6" text-anchor="middle">400</text>
<text x="960.9" y="600.6" text-anchor="middle">450</text>
<text x="117.3" y="565.2" text-anchor="end">1500</text>
<text x="117.3" y="501.0" text-anchor="end">2000</text>
<text x="117.3" y="436.7" text-anchor="end">2500</text>
<text x="117.3" y="372.5" text-anchor="end">3000</text>
<text x="117.3" y="308.2" text-anchor="end">3500</text>
<text x="117.3" y="244.0" text-anchor="end">4000</text>
<text x="117.3" y="179.7" text-anchor="end">4500</text>
<text x="117.3" y="115.5" text-anchor="end">5000</text>
<text x="117.3" y="51.2" text-anchor="end">5500</text>
<text x="567.9" y="635.8" text-anchor="middle" textLength="211.2" lengthAdjust="spacing">Mass flow [kg/h]</text>
<g transform="translate(24.3,0) rotate(-90)">
<text x="-475.3" y="0" textLength="332.8" lengthAdjust="spacing">Heat transfer coefficient [</text>
<text x="-100.4" y="0">]</text>
<rect x="-142.5" y="-6.3" width="39.5" height="2" fill="#000"/>
<text x="-122.4" y="-11.2" text-anchor="middle" font-style="italic" style="font-size:18.2px">W</text>
<text x="-142.4" y="13.4" font-style="italic" style="font-size:18.2px">m</text>
<text x="-123.6" y="6.7" style="font-size:12.74px">2</text>
<text x="-115.2" y="13.4" font-style="italic" style="font-size:18.2px">K</text>
</g>
<rect x="148.5" y="14.1" width="322.0" height="159.2" rx="5.2" fill="#fff" fill-opacity="0.8" stroke="#ccc" stroke-opacity="0.8" stroke-width="2.6"/>
<path d="M158.9,34.9 H209.9" stroke="#0000ff" stroke-width="3.9" stroke-linecap="square" fill="none"/>
<path d="M184.5,27.1 l-7.8,15.6 h15.6Z" fill="#0000ff" stroke="#0000ff" stroke-width="2.6" stroke-linejoin="miter"/>
<text x="230.6" y="43.8" style="letter-spacing:-0.08px">Simulation, 20°C</text>
<path d="M158.9,72.8 H209.9" stroke="#ff0000" stroke-width="3.9" stroke-linecap="square" fill="none"/>
<path d="M184.5,65.0 l-7.8,15.6 h15.6Z" fill="#ff0000" stroke="#ff0000" stroke-width="2.6" stroke-linejoin="miter"/>
<text x="230.6" y="81.8" style="letter-spacing:-0.08px">Simulation, 70°C</text>
<path transform="translate(184.5,110.6)" d="M0.00,-7.80 1.75,-2.41 7.42,-2.41 2.83,0.92 4.58,6.31 0.00,2.98 -4.58,6.31 -2.83,0.92 -7.42,-2.41 -1.75,-2.41Z" fill="#0000ff" stroke="#0000ff" stroke-width="2.6" stroke-linejoin="bevel"/>
<text x="230.6" y="119.8" style="letter-spacing:-0.08px">Experiment, 20°C</text>
<path transform="translate(184.5,148.5)" d="M0.00,-7.80 1.75,-2.41 7.42,-2.41 2.83,0.92 4.58,6.31 0.00,2.98 -4.58,6.31 -2.83,0.92 -7.42,-2.41 -1.75,-2.41Z" fill="#ff0000" stroke="#ff0000" stroke-width="2.6" stroke-linejoin="bevel"/>
<text x="230.6" y="157.8" style="letter-spacing:-0.08px">Experiment, 70°C</text>
<g clip-path="url(#c1)">
<path d="M174.7,813.1 V1374.8 M305.7,813.1 V1374.8 M436.8,813.1 V1374.8 M567.8,813.1 V1374.8 M698.8,813.1 V1374.8 M829.9,813.1 V1374.8 M960.9,813.1 V1374.8 M135.6,1314.2 H1000.1 M135.6,1202.4 H1000.1 M135.6,1090.5 H1000.1 M135.6,978.7 H1000.1 M135.6,866.8 H1000.1" stroke="#b0b0b0" stroke-width="2.08" fill="none"/>
<polyline points="174.7,1331.5 305.7,1276.2 436.8,1209.2 567.8,1130.4 698.8,1040.4 829.9,945.4 960.9,839.0" fill="none" stroke="#0000ff" stroke-width="3.9" stroke-linejoin="round"/>
<path d="M174.7,1323.7 l-7.8,15.6 h15.6Z" fill="#0000ff" stroke="#0000ff" stroke-width="2.6" stroke-linejoin="miter"/>
<path d="M305.7,1268.4 l-7.8,15.6 h15.6Z" fill="#0000ff" stroke="#0000ff" stroke-width="2.6" stroke-linejoin="miter"/>
<path d="M436.8,1201.4 l-7.8,15.6 h15.6Z" fill="#0000ff" stroke="#0000ff" stroke-width="2.6" stroke-linejoin="miter"/>
<path d="M567.8,1122.6 l-7.8,15.6 h15.6Z" fill="#0000ff" stroke="#0000ff" stroke-width="2.6" stroke-linejoin="miter"/>
<path d="M698.8,1032.6 l-7.8,15.6 h15.6Z" fill="#0000ff" stroke="#0000ff" stroke-width="2.6" stroke-linejoin="miter"/>
<path d="M829.9,937.6 l-7.8,15.6 h15.6Z" fill="#0000ff" stroke="#0000ff" stroke-width="2.6" stroke-linejoin="miter"/>
<path d="M960.9,831.2 l-7.8,15.6 h15.6Z" fill="#0000ff" stroke="#0000ff" stroke-width="2.6" stroke-linejoin="miter"/>
<polyline points="174.7,1348.5 305.7,1298.2 436.8,1236.8 567.8,1169.4 698.8,1090.7 829.9,1002.0 960.9,901.2" fill="none" stroke="#ff0000" stroke-width="3.9" stroke-linejoin="round"/>
<path d="M174.7,1340.7 l-7.8,15.6 h15.6Z" fill="#ff0000" stroke="#ff0000" stroke-width="2.6" stroke-linejoin="miter"/>
<path d="M305.7,1290.4 l-7.8,15.6 h15.6Z" fill="#ff0000" stroke="#ff0000" stroke-width="2.6" stroke-linejoin="miter"/>
<path d="M436.8,1229.0 l-7.8,15.6 h15.6Z" fill="#ff0000" stroke="#ff0000" stroke-width="2.6" stroke-linejoin="miter"/>
<path d="M567.8,1161.6 l-7.8,15.6 h15.6Z" fill="#ff0000" stroke="#ff0000" stroke-width="2.6" stroke-linejoin="miter"/>
<path d="M698.8,1082.9 l-7.8,15.6 h15.6Z" fill="#ff0000" stroke="#ff0000" stroke-width="2.6" stroke-linejoin="miter"/>
<path d="M829.9,994.2 l-7.8,15.6 h15.6Z" fill="#ff0000" stroke="#ff0000" stroke-width="2.6" stroke-linejoin="miter"/>
<path d="M960.9,893.4 l-7.8,15.6 h15.6Z" fill="#ff0000" stroke="#ff0000" stroke-width="2.6" stroke-linejoin="miter"/>
<g fill="#0000ff" stroke="#0000ff" stroke-width="2.6" stroke-linejoin="round">
<polygon points="390.6,1282.5 391.0,1283.1 407.0,1281.5 423.0,1273.5 438.9,1272.7 454.9,1271.9 470.9,1273.5 486.9,1275.1 495.0,1284.0 495.0,1284.5 495.0,1285.5 495.0,1285.0 486.9,1284.5 470.9,1286.5 454.9,1286.5 438.9,1289.2 423.0,1288.5 407.0,1288.5 391.0,1284.5 390.6,1283.5"/>
<polygon points="537.0,1230.5 539.4,1231.0 552.0,1225.5 565.9,1219.9 579.9,1212.9 588.3,1204.5 596.7,1201.7 607.9,1208.7 616.3,1214.3 617.0,1215.5 617.0,1216.5 616.3,1219.4 607.9,1222.2 596.7,1227.8 588.3,1230.6 579.9,1232.0 565.9,1232.0 552.0,1232.0 539.4,1232.0 537.0,1231.5"/>
<polygon points="668.0,1165.7 668.0,1164.4 679.9,1160.8 691.9,1154.8 703.9,1151.2 715.9,1144.0 727.9,1141.6 739.9,1146.5 743.5,1161.5 743.5,1165.5 739.9,1166.9 727.9,1168.1 715.9,1169.3 703.9,1169.3 691.9,1169.3 679.9,1169.3 668.0,1168.1 668.0,1166.7"/>
<polygon points="732.7,1096.5 739.9,1094.8 751.9,1091.2 763.9,1090.0 787.8,1087.6 802.2,1086.4 805.3,1092.5 805.3,1093.5 802.2,1098.6 787.8,1098.6 763.9,1099.8 751.9,1098.6 739.9,1096.2 732.7,1097.5"/>
</g>
<polyline points="347.8,1325.2 352.0,1320.0 365.2,1325.0 416.9,1256.6 481.8,1247.0 459.2,1262.2 475.2,1266.2 502.4,1270.2 606.5,1186.8 593.9,1196.6 602.3,1202.9 621.9,1214.0 533.1,1230.1 651.2,1170.6 739.9,1059.6 731.5,1112.3 744.2,1125.5 735.8,1132.7 758.6,1137.5 745.9,1165.0 411.7,1284.2 480.4,1284.3 478.3,1279.8 455.7,1283.9 477.1,1278.6 463.4,1280.0 464.8,1274.3 436.0,1276.4 402.6,1285.2 410.1,1284.0 423.6,1285.4 409.0,1286.8 421.0,1276.4 484.2,1279.9 439.3,1289.0 455.4,1284.3 479.1,1275.8 398.4,1284.8 425.3,1274.9 431.8,1275.1 417.0,1277.8 421.9,1278.8 443.9,1278.4 403.1,1284.2 422.2,1278.9 455.2,1283.1 418.3,1282.9 457.4,1285.3 445.9,1283.3 404.6,1285.3 399.3,1283.9 430.9,1276.9 461.3,1283.4 466.8,1278.9 434.3,1287.5 441.2,1275.0 454.7,1281.9 440.3,1282.1 470.2,1277.6 470.1,1277.6 408.6,1282.4 419.7,1288.0 477.8,1276.0 488.1,1279.7 440.0,1281.3 398.4,1284.3 476.8,1276.2 454.0,1286.4 475.3,1275.4 493.1,1283.5 434.7,1288.9 441.9,1277.5 399.0,1283.9 441.3,1287.5 486.5,1276.8 479.2,1281.8 467.5,1285.9 485.5,1280.0 456.3,1273.6 481.9,1278.9 461.0,1285.3 414.4,1288.3 403.4,1285.6 400.4,1283.7 399.7,1284.8 471.8,1275.1 471.6,1276.5 428.2,1282.2 458.5,1279.7 403.9,1286.3 451.3,1274.4 414.3,1286.1 469.3,1284.6 427.8,1288.5 474.7,1275.4 431.8,1279.4 406.5,1285.0 459.3,1276.9 457.8,1283.4 468.9,1283.4 474.3,1281.7 460.3,1274.5 463.7,1285.3 429.6,1281.9 397.8,1285.2 473.8,1282.0 467.3,1284.3 414.8,1280.5 398.0,1285.0 399.6,1284.0 413.3,1281.5 449.1,1277.4 431.3,1278.3 418.0,1281.7 468.6,1275.1 445.4,1287.8 410.0,1282.4 453.7,1274.5 398.1,1285.0 416.6,1287.2 417.9,1283.7 457.8,1280.1 450.0,1277.2 456.1,1281.8 410.9,1284.8 421.1,1288.0 392.3,1284.5 458.6,1281.9 406.2,1288.2 399.9,1284.2 439.6,1288.1 408.8,1288.0 459.4,1275.6 435.0,1275.6 472.0,1275.9 467.3,1282.5 396.2,1285.5 431.5,1285.6 439.7,1274.2 403.3,1283.4 473.5,1275.4 479.8,1281.9 479.3,1280.2 422.6,1283.9 437.8,1287.5 413.9,1282.9 446.6,1278.5 420.6,1288.3 429.6,1278.6 468.4,1276.7 447.2,1278.7 418.9,1277.2 481.5,1284.9 398.2,1285.5 485.5,1283.9 468.1,1278.5 447.1,1273.8 429.1,1280.1 467.1,1276.3 468.5,1275.2 399.9,1285.9 417.9,1278.5 471.8,1286.2 426.9,1275.9 437.4,1281.6 444.7,1284.9 481.8,1282.4 413.7,1287.5 416.4,1281.7 413.7,1280.1 427.7,1279.4 441.2,1277.2 476.8,1277.1 463.6,1281.3 481.0,1284.3 466.0,1280.8 396.5,1285.4 409.1,1286.2 409.3,1282.3 443.6,1287.9 405.8,1287.0 493.1,1283.5 400.3,1283.8 449.1,1286.1 475.1,1283.6 486.3,1283.9 399.4,1285.8 435.9,1276.1 454.3,1275.6 436.3,1286.3 454.1,1285.5 431.8,1275.7 399.7,1283.9 402.4,1284.9 489.7,1279.6 432.4,1288.7 462.7,1276.3 491.7,1283.4 410.2,1284.2 471.3,1282.5 490.0,1283.4 461.7,1274.5 430.0,1286.6 406.0,1284.7 484.9,1284.0 396.9,1284.9 424.9,1277.7 396.3,1285.5 426.3,1275.7 463.0,1274.4 490.0,1283.8 423.8,1278.5 437.7,1286.7 402.2,1284.5 418.1,1288.3 463.9,1281.1 409.0,1284.3 425.6,1286.4 438.6,1284.9 464.2,1275.5 457.8,1284.9 488.0,1281.7 448.6,1283.6 450.3,1276.5 483.5,1281.7 484.3,1283.0 424.0,1277.6 475.2,1285.8 489.3,1279.8 419.2,1282.0 460.0,1275.6 486.1,1279.5 428.5,1275.2 492.2,1283.3 483.1,1276.1 442.0,1279.9 597.2,1226.7 540.5,1231.9 558.6,1229.9 545.2,1230.8 553.5,1231.6 538.7,1232.1 583.7,1227.7 570.2,1218.8 549.4,1231.3 549.0,1228.4 546.4,1230.4 544.1,1231.1 582.2,1213.4 540.7,1231.9 566.8,1222.6 551.9,1230.6 604.8,1217.1 595.5,1208.5 583.6,1225.5 605.4,1216.6 594.9,1207.0 593.7,1214.7 558.3,1228.3 570.9,1225.5 564.8,1224.3 574.9,1231.2 577.2,1230.2 547.1,1230.0 564.9,1223.7 581.7,1231.0 602.6,1223.2 558.1,1229.3 612.0,1220.6 564.7,1224.4 587.0,1226.0 552.8,1229.1 609.9,1213.5 565.7,1225.4 578.3,1215.2 548.9,1230.2 558.6,1226.4 563.1,1222.2 552.7,1231.3 607.0,1221.2 564.4,1229.5 563.8,1230.4 599.0,1208.7 565.1,1230.2 566.7,1225.0 563.6,1231.8 614.6,1215.4 562.6,1230.7 539.1,1232.1 552.8,1228.6 585.0,1215.6 609.1,1219.5 595.7,1220.0 553.5,1229.8 602.9,1223.2 571.2,1226.6 580.9,1227.2 570.3,1230.8 592.5,1206.5 597.2,1218.0 592.4,1228.4 596.9,1205.3 614.8,1215.0 593.1,1211.0 548.3,1231.2 557.3,1225.1 589.1,1228.1 585.8,1230.9 560.7,1223.7 603.6,1222.1 552.0,1230.7 555.5,1231.1 607.6,1218.9 584.0,1219.3 605.3,1211.7 607.2,1215.7 557.5,1226.2 544.1,1231.1 614.6,1218.4 562.4,1228.5 556.5,1230.8 573.6,1222.4 602.5,1209.9 566.5,1225.0 604.3,1207.5 601.4,1211.2 587.4,1227.9 570.6,1230.3 571.3,1223.1 599.8,1224.0 612.5,1213.6 541.4,1231.7 564.8,1229.0 596.5,1223.1 605.2,1213.9 539.5,1232.1 551.1,1228.4 549.0,1228.9 545.9,1230.7 570.8,1229.5 551.3,1229.7 606.4,1210.2 604.2,1213.0 561.8,1225.9 558.2,1227.9 549.6,1229.8 568.9,1221.0 596.6,1209.2 548.8,1228.4 567.9,1228.5 612.1,1218.3 608.0,1212.6 568.3,1231.3 607.5,1222.4 584.6,1212.3 611.0,1216.1 613.1,1214.5 607.7,1221.6 586.1,1215.1 578.9,1231.8 587.6,1230.5 580.6,1222.7 542.7,1231.4 574.3,1227.6 567.9,1230.0 609.5,1213.4 598.7,1221.8 545.3,1230.7 581.6,1215.4 614.3,1219.9 608.4,1215.2 578.4,1223.2 574.1,1223.1 599.7,1219.3 574.6,1218.4 595.8,1223.1 560.8,1231.8 542.3,1231.5 577.8,1230.7 545.8,1230.8 611.4,1219.1 543.9,1231.2 596.0,1209.2 564.5,1230.0 582.6,1213.8 596.1,1220.8 589.0,1209.2 600.2,1224.9 575.1,1220.5 599.7,1209.9 588.7,1207.0 574.4,1229.8 546.9,1231.0 560.8,1229.9 594.8,1208.4 610.3,1212.1 589.9,1209.0 562.9,1227.2 551.0,1229.2 548.1,1229.7 581.7,1227.6 601.5,1221.2 607.6,1221.6 566.0,1223.7 614.7,1216.9 552.1,1229.9 589.7,1210.6 679.5,1162.5 681.3,1166.7 741.1,1165.2 692.9,1156.7 734.4,1145.8 673.9,1166.3 731.4,1167.6 700.2,1158.5 716.8,1149.1 695.2,1156.4 722.1,1150.5 696.4,1168.0 723.0,1164.8 735.5,1150.8 720.0,1146.3 670.2,1168.1 703.1,1166.2 706.9,1156.8 687.3,1160.2 702.6,1166.9 689.6,1158.8 741.2,1161.2 712.3,1147.3 703.2,1160.5 683.1,1161.9 727.8,1160.0 700.8,1156.1 684.4,1162.2 701.5,1168.6 738.3,1147.8 734.1,1146.4 723.1,1147.3 716.9,1151.9 706.6,1168.0 724.9,1149.2 715.4,1158.5 736.7,1156.3 698.6,1164.5 691.3,1158.6 740.9,1154.3 700.6,1156.2 677.7,1167.4 695.7,1163.6 709.6,1164.4 723.2,1161.5 695.5,1165.6 670.8,1165.2 673.7,1168.4 699.2,1169.1 710.2,1150.5 718.0,1155.4 730.0,1159.8 682.6,1167.7 699.7,1167.6 735.3,1161.0 706.2,1152.1 683.9,1169.1 712.2,1165.3 701.9,1155.2 719.8,1146.7 738.9,1166.4 738.1,1160.7 698.6,1168.4 688.1,1159.7 698.9,1154.3 718.0,1156.9 697.6,1159.5 706.3,1153.4 713.5,1165.6 691.7,1160.5 726.4,1149.6 672.1,1166.4 684.0,1161.0 691.1,1167.1 676.9,1166.0 739.7,1162.4 709.7,1157.3 715.1,1159.0 711.1,1160.0 694.4,1168.2 715.2,1158.3 719.3,1168.6 677.0,1168.4 676.1,1166.9 733.6,1153.5 732.5,1154.9 681.3,1168.1 695.6,1167.7 730.9,1147.8 673.2,1165.3 689.0,1161.9 731.9,1160.0 681.0,1166.3 670.6,1165.7 673.0,1164.9 739.4,1155.1 695.8,1168.4 703.8,1154.7 693.9,1159.3 716.7,1145.4 739.1,1165.3 719.1,1161.5 687.3,1168.8 689.2,1159.3 681.1,1162.8 676.7,1166.0 741.0,1158.8 717.4,1147.4 738.5,1166.7 704.6,1154.4 681.2,1165.4 718.7,1146.2 710.7,1148.8 717.5,1167.0 703.6,1160.8 694.8,1164.9 673.0,1167.3 687.7,1167.1 700.2,1157.4 711.7,1163.3 677.5,1164.2 718.0,1165.0 674.3,1164.0 700.5,1162.5 729.6,1167.3 734.6,1167.2 728.4,1146.3 671.8,1165.5 676.0,1167.9 689.0,1167.7 702.3,1161.2 739.6,1153.8 724.3,1143.9 727.4,1146.0 735.1,1159.0 687.8,1169.1 721.7,1149.5 704.9,1155.4 709.6,1153.4 677.5,1167.8 724.3,1149.7 736.3,1158.9 696.0,1164.4 694.0,1157.9 685.8,1163.2 730.8,1159.4 741.3,1160.4 706.5,1154.2 709.2,1155.7 727.4,1143.2 681.8,1162.4 739.4,1155.5 728.0,1161.9 722.0,1157.6 676.8,1168.3 737.7,1166.9 712.1,1164.9 676.4,1165.9 673.3,1166.1 682.7,1161.4 729.1,1149.4 723.4,1149.7 675.6,1165.3 731.3,1154.7 705.4,1168.6 712.2,1151.2 688.4,1161.9 674.8,1166.4 703.8,1155.0 723.7,1147.5 728.0,1150.4 678.6,1164.5 718.1,1150.4 720.6,1168.7 721.5,1162.0 734.8,1146.0 738.5,1166.9 693.9,1157.1 715.6,1154.5 719.0,1167.0 699.5,1162.2 708.6,1168.6 728.0,1168.0 670.3,1167.4 722.4,1159.9 711.4,1168.6 721.1,1144.5 741.0,1165.9 683.1,1164.9 737.0,1163.2 691.4,1168.7 679.8,1166.3 796.5,1091.6 748.6,1097.6 795.0,1098.4 744.9,1095.1 760.2,1098.6 792.8,1092.2 736.0,1096.6 784.4,1097.1 794.7,1088.5 756.6,1094.9 740.4,1096.1 797.9,1090.5 784.0,1096.2 802.6,1094.5 791.6,1093.2 750.9,1093.9 743.9,1096.2 772.6,1095.4 802.3,1089.6 742.1,1095.9 767.9,1096.1 799.0,1089.8 799.1,1096.4 777.5,1091.1 794.1,1089.7 773.9,1090.5 738.0,1096.4 751.2,1097.6 753.1,1098.2 777.6,1096.9 803.5,1090.6 771.2,1093.8 756.2,1097.6 764.5,1098.3 753.4,1097.1 788.9,1089.5 776.1,1098.7 748.1,1094.6 756.5,1093.1 790.5,1093.7 781.4,1090.3 768.0,1091.9 747.2,1097.4 793.4,1093.5 799.5,1096.7 763.0,1097.6 747.8,1096.3 752.1,1097.5 789.3,1098.4 780.9,1096.4 792.1,1095.6 746.3,1095.4 751.9,1093.2 772.2,1097.5 770.0,1091.3 802.5,1088.4 772.4,1092.0 799.1,1089.2 780.0,1097.6 781.3,1098.2 794.8,1091.5 779.1,1090.9 774.0,1098.2 771.9,1091.3 738.5,1096.3 784.1,1089.4 755.5,1092.6 795.5,1092.3 773.9,1098.2 763.0,1091.6 789.3,1090.3 769.7,1092.0 753.6,1093.1 772.7,1090.7 737.3,1096.4 734.4,1096.8 799.1,1089.0 767.1,1092.2 786.3,1093.4 783.0,1096.6 762.2,1092.9 777.6,1095.3 777.8,1095.4 742.3,1095.7 741.0,1096.2 752.6,1094.7 800.1,1094.9 768.7,1098.6 759.3,1092.4 763.4,1099.0 752.6,1093.7 756.1,1096.4 755.2,1093.6 771.8,1092.6 779.0,1093.8 749.5,1093.6 803.8,1098.0 756.8,1098.8 740.4,1096.1 748.8,1097.8 775.5,1097.6 752.0,1097.9 777.2,1096.4 791.6,1092.2 738.5,1096.3 755.6,1094.0 776.1,1095.2 784.2,1089.9 738.4,1096.3 736.0,1096.6 764.5,1095.2 741.3,1096.1 789.5,1095.6 734.4,1096.8 777.2,1092.2 734.7,1096.7 797.1,1097.9 790.6,1096.5 785.8,1095.1 782.9,1095.7 739.3,1096.2 736.0,1096.6 745.6,1096.1 742.3,1095.8 741.6,1096.2 767.4,1096.0 802.2,1097.0 748.9,1097.6 796.6,1090.6 761.2,1098.2 742.8,1095.8 754.5,1095.8 744.4,1095.7 741.6,1096.1 741.0,1096.1 755.2,1097.0 773.1,1098.6 791.4,1098.4 796.5,1095.4 746.5,1094.9 787.3,1093.1 797.8,1096.5 759.1,1095.7 783.2,1091.1 765.1,1098.6 772.0,1093.9 802.5,1094.6 801.8,1096.2 779.6,1092.1 764.6,1098.3 775.5,1098.5 789.1,1093.3 758.5,1095.4 746.2,1096.3 771.0,1098.8 799.4,1090.4 782.1,1094.3 768.3,1091.2 754.2,1094.4 745.2,1095.1 790.2,1096.8 738.5,1096.3 744.6,1096.5 756.8,1092.3 776.1,1091.4 752.3,1093.7 760.5,1098.4" fill="none" stroke="none" marker-start="url(#mb)" marker-mid="url(#mb)" marker-end="url(#mb)"/>
<g fill="#ff0000" stroke="#ff0000" stroke-width="2.6" stroke-linejoin="round">
<polygon points="303.8,1344.9 303.8,1341.1 314.0,1337.5 326.0,1337.5 338.0,1337.5 345.1,1336.3 352.3,1336.3 358.0,1338.2 358.0,1338.5 358.0,1339.5 358.0,1339.2 352.3,1341.2 345.1,1343.6 338.0,1347.2 326.0,1349.6 314.0,1349.6 303.8,1348.5 303.8,1345.9"/>
<polygon points="393.8,1305.0 394.2,1305.2 407.0,1304.6 423.0,1303.8 438.9,1299.0 454.9,1295.8 470.9,1296.6 486.9,1295.8 499.3,1295.8 499.3,1300.5 499.3,1301.5 499.3,1305.2 486.9,1306.8 470.9,1307.6 454.9,1310.0 438.9,1310.8 423.0,1310.8 407.0,1309.2 394.2,1306.2 393.8,1306.0"/>
<polygon points="541.2,1259.0 541.2,1259.0 552.0,1256.2 565.9,1252.7 579.9,1249.2 593.9,1245.0 607.9,1243.6 615.0,1250.6 615.0,1251.5 615.0,1252.5 615.0,1254.4 607.9,1261.4 593.9,1264.2 579.9,1264.9 565.9,1264.9 552.0,1264.2 541.2,1263.5 541.2,1260.0"/>
<polygon points="665.6,1209.0 668.0,1207.5 679.9,1202.7 691.9,1197.9 703.9,1194.3 715.9,1190.7 727.9,1189.5 739.9,1187.1 747.0,1194.3 747.0,1198.5 747.0,1199.5 747.0,1202.9 739.9,1208.9 727.9,1211.3 715.9,1212.0 703.9,1212.5 691.9,1213.0 679.9,1213.7 668.0,1211.3 665.6,1210.0"/>
<polygon points="721.4,1151.5 727.9,1151.2 739.9,1148.8 751.9,1145.2 763.9,1144.0 787.8,1141.6 799.8,1140.4 805.3,1146.5 805.3,1152.5 799.8,1156.2 787.8,1156.2 763.9,1155.0 751.9,1155.0 739.9,1153.8 727.9,1153.8 721.4,1152.5"/>
</g>
<polyline points="308.6,1328.3 354.7,1322.5 366.7,1340.0 385.9,1340.6 478.9,1277.4 454.1,1285.4 520.5,1264.6 603.7,1225.9 589.7,1235.0 624.7,1249.7 736.3,1170.6 744.7,1179.4 763.9,1196.9 756.7,1200.3 354.5,1331.0 307.8,1347.9 321.0,1344.1 312.6,1340.4 349.4,1338.5 354.0,1339.2 334.8,1342.3 341.5,1342.3 327.3,1347.2 306.1,1344.2 342.7,1343.4 321.6,1340.1 350.8,1338.3 308.3,1344.2 315.9,1349.4 329.9,1343.0 335.9,1346.8 331.2,1342.0 319.1,1343.1 331.4,1341.0 306.1,1342.1 313.4,1345.0 322.6,1339.0 345.8,1341.2 354.6,1340.0 351.8,1338.8 317.7,1346.7 349.4,1337.8 335.3,1341.0 350.5,1338.3 326.0,1340.1 342.1,1344.7 304.9,1347.6 349.3,1339.4 351.0,1338.7 344.3,1342.4 319.1,1347.2 340.8,1342.4 345.0,1340.3 316.3,1342.5 336.3,1347.3 347.8,1341.9 318.1,1346.1 332.9,1341.4 325.9,1344.9 349.1,1342.2 325.4,1343.4 343.1,1342.2 346.8,1340.7 310.7,1341.4 345.1,1341.3 324.4,1340.1 335.9,1340.0 329.7,1345.3 318.8,1345.5 308.8,1345.1 333.1,1347.3 335.9,1346.3 335.3,1344.0 334.4,1339.0 341.8,1344.7 341.6,1342.4 329.6,1342.0 320.5,1346.9 322.1,1348.6 350.8,1341.5 339.1,1339.6 346.8,1338.6 351.8,1340.0 331.1,1341.3 339.3,1340.9 325.6,1345.7 348.6,1339.1 339.5,1340.0 322.4,1346.3 336.8,1341.7 312.2,1345.8 305.5,1348.3 341.8,1339.0 333.9,1346.7 334.3,1347.7 356.1,1339.4 319.7,1348.4 355.6,1339.7 315.8,1342.5 320.0,1341.0 317.1,1341.6 329.2,1347.2 306.1,1342.5 341.5,1338.4 352.2,1340.5 317.2,1340.0 348.6,1339.3 333.8,1339.7 348.0,1341.0 308.2,1340.5 331.7,1340.7 318.7,1345.4 306.7,1341.9 344.8,1337.8 348.3,1341.6 337.4,1345.0 324.5,1346.2 345.0,1343.4 306.1,1344.6 324.2,1347.3 346.9,1340.9 327.2,1339.0 328.5,1339.2 322.5,1348.9 314.4,1339.8 337.6,1340.0 324.4,1349.3 341.6,1343.9 340.4,1338.9 312.4,1344.3 334.3,1347.0 324.8,1339.1 339.2,1345.9 352.8,1339.8 337.0,1345.6 355.9,1339.4 348.7,1341.2 353.7,1340.4 329.0,1346.5 353.4,1338.8 338.4,1345.3 314.3,1349.1 315.2,1349.0 316.8,1349.4 341.9,1339.8 330.7,1348.5 325.8,1341.0 307.0,1344.6 309.7,1348.5 320.1,1349.1 322.7,1349.4 348.6,1337.9 324.6,1344.1 315.4,1343.8 493.0,1303.9 492.5,1298.3 424.0,1307.5 474.5,1304.7 450.9,1303.2 455.0,1298.9 493.4,1298.2 473.2,1303.3 426.3,1305.8 413.2,1308.6 405.3,1307.0 456.3,1305.4 433.0,1303.3 407.5,1308.6 435.6,1306.6 469.3,1301.4 426.2,1307.7 480.8,1300.5 497.4,1298.1 484.7,1304.7 478.8,1306.9 413.2,1306.3 416.9,1306.2 474.1,1300.9 464.7,1302.3 464.1,1303.4 414.7,1308.6 486.4,1302.1 452.9,1308.9 407.5,1306.5 470.1,1300.1 420.3,1307.4 440.6,1305.7 419.3,1306.4 419.8,1308.0 476.3,1303.1 417.8,1306.1 399.1,1306.8 486.5,1299.2 423.1,1310.0 410.5,1307.3 464.8,1298.2 489.8,1299.7 419.6,1309.2 447.8,1310.0 417.5,1305.7 491.3,1299.8 423.6,1305.3 435.8,1301.6 490.0,1305.2 473.6,1302.3 432.4,1303.2 495.0,1305.1 466.5,1302.9 405.4,1308.8 402.3,1307.3 452.8,1300.8 416.2,1309.5 415.8,1307.5 456.8,1298.6 477.7,1303.5 487.2,1297.5 395.5,1306.5 451.2,1302.7 475.3,1307.2 427.2,1306.3 457.4,1297.6 461.6,1304.0 445.2,1299.6 476.6,1298.7 399.7,1306.6 487.4,1299.8 474.5,1304.9 459.1,1307.5 426.6,1307.6 486.1,1299.4 493.2,1298.0 481.6,1297.7 411.8,1307.1 429.6,1305.0 440.8,1307.7 497.2,1299.3 409.3,1307.0 454.5,1302.9 419.9,1307.7 492.9,1304.5 403.6,1307.9 488.7,1306.3 430.6,1310.3 490.1,1297.3 437.9,1301.6 474.2,1298.9 427.9,1308.5 417.2,1306.1 445.5,1299.6 441.6,1300.3 426.3,1304.7 489.8,1301.2 418.4,1305.7 446.6,1310.2 406.5,1306.3 451.2,1309.3 399.7,1306.7 436.1,1310.2 443.6,1308.3 445.0,1309.0 408.2,1307.3 472.1,1304.5 461.1,1305.5 396.8,1306.6 489.3,1304.7 456.5,1297.4 461.0,1297.6 434.8,1308.9 430.6,1310.1 470.7,1303.9 475.4,1306.1 467.8,1304.4 452.1,1305.0 435.1,1310.1 445.9,1299.6 449.9,1298.8 472.1,1307.4 477.6,1306.9 448.5,1305.3 413.8,1306.7 446.4,1306.5 444.1,1303.1 455.6,1303.4 451.7,1307.0 445.9,1304.1 449.3,1298.4 447.8,1307.9 430.6,1310.0 428.5,1303.8 406.4,1308.1 399.0,1307.0 480.9,1298.0 472.9,1300.8 438.4,1303.3 441.8,1307.5 408.4,1306.7 415.0,1309.7 408.9,1308.8 441.2,1310.3 453.4,1309.9 429.2,1305.7 421.0,1307.0 416.8,1309.0 430.6,1309.3 402.2,1307.9 415.1,1308.3 441.7,1310.4 471.6,1304.1 421.2,1308.0 480.7,1300.9 398.1,1306.7 474.7,1299.5 496.2,1304.9 443.7,1299.6 423.7,1308.6 429.0,1305.7 470.0,1303.5 437.7,1310.1 460.7,1298.7 475.5,1304.6 487.2,1303.5 482.4,1304.8 437.7,1304.3 470.2,1298.5 434.2,1310.5 450.1,1305.3 410.6,1306.3 495.5,1301.9 438.3,1301.2 497.1,1303.2 437.4,1308.2 438.2,1302.4 424.0,1304.9 445.7,1300.8 399.9,1307.2 407.4,1308.3 465.9,1301.8 467.4,1305.2 475.1,1302.7 466.8,1297.9 401.8,1307.4 457.6,1298.6 469.9,1300.0 413.6,1307.6 475.4,1304.6 453.6,1298.2 438.9,1310.4 479.1,1301.2 469.9,1299.9 492.5,1305.5 485.1,1297.7 449.6,1308.1 456.3,1307.3 414.0,1309.0 406.6,1306.1 463.8,1300.0 439.1,1308.6 449.4,1300.4 452.0,1305.8 467.4,1300.9 416.6,1305.9 407.6,1306.7 464.1,1307.4 396.5,1306.6 466.7,1305.3 440.9,1309.1 396.9,1306.6 409.2,1308.8 491.4,1302.5 473.5,1303.9 427.7,1310.6 461.7,1304.9 490.7,1300.3 421.9,1308.8 431.0,1309.1 456.3,1309.0 419.9,1309.9 398.9,1306.9 474.2,1300.0 395.8,1306.5 567.1,1258.3 570.8,1264.7 598.1,1261.9 558.2,1259.7 558.4,1260.2 584.1,1251.2 553.0,1259.0 600.6,1247.3 554.1,1259.7 582.8,1263.6 580.6,1260.1 597.8,1250.4 579.3,1251.0 551.7,1259.9 591.0,1253.3 604.2,1260.0 577.8,1263.8 585.9,1258.2 589.1,1254.9 544.0,1261.3 607.8,1260.2 543.1,1260.7 565.3,1255.1 601.2,1262.7 602.9,1247.0 600.4,1260.3 543.0,1260.8 553.4,1263.1 547.0,1261.6 545.7,1263.3 600.9,1254.9 571.7,1255.8 610.9,1257.9 555.6,1263.5 574.2,1258.9 577.6,1263.6 559.8,1262.6 597.5,1262.4 602.6,1262.0 574.7,1263.8 574.5,1253.8 572.6,1264.1 600.6,1253.8 592.9,1253.4 566.2,1259.8 548.0,1261.5 544.8,1262.4 602.6,1253.1 603.3,1258.1 612.2,1248.9 586.4,1248.8 562.8,1263.8 560.4,1261.6 546.4,1259.1 575.9,1261.2 612.1,1251.5 603.4,1253.2 583.5,1264.1 559.2,1259.0 575.1,1260.3 563.8,1264.6 589.0,1248.3 582.8,1250.2 599.1,1260.0 595.1,1260.0 610.5,1247.9 585.5,1263.9 602.5,1250.6 586.8,1261.7 580.8,1261.6 547.9,1263.1 595.6,1251.1 554.5,1263.1 593.0,1256.1 561.2,1255.9 580.9,1257.3 589.4,1253.3 572.0,1258.8 592.9,1264.0 583.1,1250.4 560.9,1256.5 584.9,1261.6 559.9,1256.6 611.2,1255.3 544.0,1259.9 578.9,1264.7 565.1,1260.1 599.8,1246.0 595.8,1262.7 608.8,1250.8 587.9,1252.0 583.4,1263.2 551.8,1261.6 555.6,1263.7 591.9,1258.0 587.3,1251.2 593.1,1247.7 565.0,1255.0 559.6,1259.6 558.8,1262.0 593.3,1260.7 549.7,1261.4 571.1,1254.0 593.3,1259.1 556.5,1261.8 604.6,1246.5 568.4,1261.2 607.3,1251.4 561.8,1263.9 571.2,1256.3 559.5,1257.3 590.5,1254.4 580.8,1252.3 583.7,1257.5 552.9,1262.7 603.2,1246.5 609.6,1250.8 547.1,1260.2 551.9,1260.5 611.7,1251.9 559.8,1258.7 570.3,1261.5 587.1,1259.5 580.4,1254.2 580.1,1257.1 607.6,1255.9 556.6,1256.4 549.8,1263.6 589.0,1258.5 575.9,1252.8 601.8,1249.6 550.1,1263.9 552.5,1263.2 569.5,1263.3 588.7,1259.6 585.1,1262.9 544.2,1260.0 611.9,1253.6 607.8,1245.1 566.0,1260.3 550.8,1260.2 573.5,1264.6 608.6,1258.7 574.9,1262.9 608.7,1257.5 557.6,1258.2 576.1,1253.7 589.1,1264.2 546.0,1263.7 545.4,1261.2 577.7,1252.2 568.8,1253.7 548.2,1261.4 581.8,1258.1 610.0,1252.4 543.0,1261.4 559.1,1256.7 596.0,1262.3 584.7,1254.4 592.8,1248.6 584.6,1259.6 602.4,1261.2 581.9,1258.7 543.5,1261.6 596.4,1256.1 571.1,1255.7 593.0,1255.9 600.2,1246.3 563.2,1255.8 544.6,1260.7 553.1,1260.8 546.0,1260.5 587.7,1256.4 596.2,1252.2 557.0,1263.3 586.5,1257.7 578.4,1257.8 607.6,1257.8 543.1,1260.0 593.4,1260.8 569.7,1258.4 602.5,1251.0 605.1,1250.8 588.8,1263.0 544.5,1262.9 596.7,1249.7 552.0,1261.5 574.6,1251.8 571.0,1253.8 601.2,1252.4 687.8,1204.6 667.8,1209.9 685.9,1212.9 677.1,1209.2 670.7,1209.8 693.7,1207.4 724.1,1210.3 739.8,1189.0 724.7,1192.8 742.5,1204.8 703.9,1210.1 686.8,1208.9 702.5,1197.2 680.1,1211.9 723.5,1194.3 696.8,1203.8 692.2,1208.2 710.7,1195.8 730.7,1195.2 721.7,1207.9 742.5,1196.7 677.5,1205.4 709.9,1211.0 701.6,1211.9 721.8,1195.6 673.1,1211.5 692.7,1210.8 667.7,1209.5 739.1,1189.2 743.2,1194.5 704.2,1211.8 679.3,1213.0 706.9,1195.5 671.4,1209.7 689.8,1209.5 722.0,1199.9 738.4,1201.8 705.4,1203.5 714.2,1209.9 738.3,1190.3 668.0,1209.4 668.3,1209.2 732.9,1201.7 705.0,1196.6 728.1,1204.9 674.6,1208.4 669.3,1211.0 667.8,1210.5 728.1,1208.5 721.1,1196.7 724.9,1205.5 675.1,1209.3 683.3,1204.6 695.3,1212.1 724.3,1202.6 711.3,1204.3 710.7,1194.6 710.0,1211.1 677.2,1211.7 684.8,1203.1 743.5,1192.3 716.7,1195.5 699.6,1197.1 684.0,1210.0 685.4,1207.4 728.7,1197.8 741.6,1193.6 678.9,1213.0 745.3,1199.8 724.2,1191.3 673.8,1212.4 716.1,1207.9 696.8,1200.6 670.0,1207.8 742.9,1197.8 671.2,1210.7 684.8,1205.2 707.6,1209.7 711.0,1212.0 668.7,1209.6 735.2,1192.9 693.2,1201.2 685.6,1211.5 744.6,1199.0 686.3,1207.3 721.4,1194.9 734.8,1208.0 705.9,1212.2 706.3,1206.3 700.9,1204.1 700.3,1197.7 714.5,1208.4 735.7,1196.8 742.1,1203.1 704.6,1200.2 707.8,1195.3 677.1,1204.9 674.3,1209.2 692.5,1208.1 729.8,1209.2 688.6,1200.6 684.8,1202.0 688.2,1212.0 741.7,1192.3 703.1,1206.2 708.9,1203.2 733.8,1208.2 690.7,1207.9 713.1,1204.8 729.2,1194.4 696.3,1202.6 681.1,1203.5 681.7,1207.3 741.1,1196.8 698.5,1202.5 720.5,1209.7 697.0,1206.7 704.3,1208.1 698.7,1209.1 717.8,1208.2 688.2,1204.5 734.9,1197.3 735.2,1209.0 719.9,1203.2 703.5,1199.7 729.4,1210.5 734.7,1203.6 689.5,1201.7 740.2,1197.1 690.6,1206.3 698.4,1211.2 685.7,1208.6 671.3,1209.0 707.9,1196.3 718.9,1194.7 674.0,1208.7 704.1,1196.0 689.6,1212.1 685.7,1209.7 699.8,1204.6 673.8,1212.2 700.4,1212.0 690.8,1208.7 683.6,1212.4 675.5,1208.4 720.2,1200.9 731.9,1193.8 734.9,1189.9 692.3,1204.8 681.0,1209.3 679.0,1211.4 732.5,1192.0 693.0,1200.9 706.1,1205.4 727.5,1210.4 695.1,1198.1 722.1,1191.7 667.9,1210.6 690.9,1208.2 692.9,1200.3 744.7,1198.9 731.7,1190.2 737.9,1193.5 672.8,1210.9 690.0,1211.0 728.6,1199.2 704.5,1196.2 682.5,1207.4 703.9,1207.3 742.2,1194.4 679.8,1211.1 696.8,1201.3 722.1,1211.5 693.1,1200.8 674.5,1207.1 731.6,1209.3 731.5,1209.5 669.8,1208.5 691.8,1203.8 723.7,1205.9 683.1,1208.3 682.3,1211.4 684.6,1213.2 687.1,1203.1 727.2,1204.9 675.2,1207.3 714.3,1193.2 693.2,1203.9 696.6,1205.4 735.1,1194.8 737.5,1195.3 677.8,1209.6 681.2,1210.9 692.4,1212.2 739.9,1208.8 728.6,1193.2 670.8,1209.0 713.5,1208.8 715.4,1210.2 675.5,1207.5 676.1,1207.4 673.8,1206.4 742.0,1191.5 707.0,1194.9 745.2,1149.9 732.1,1152.1 734.2,1153.4 748.0,1153.9 790.3,1149.1 758.1,1149.7 794.2,1150.3 757.0,1152.7 780.9,1151.5 738.1,1151.6 800.6,1146.2 776.5,1155.0 799.3,1147.2 800.2,1148.8 770.5,1154.1 743.8,1154.1 781.7,1143.8 726.1,1153.1 768.6,1145.2 769.7,1147.5 730.6,1153.1 761.7,1153.5 779.8,1153.4 736.1,1151.9 726.5,1153.1 757.6,1151.4 781.2,1144.2 736.3,1152.7 791.6,1149.6 747.7,1153.1 792.8,1145.1 783.6,1143.6 762.8,1145.7 740.5,1153.4 799.5,1149.1 761.2,1154.3 741.8,1152.3 767.3,1148.6 750.3,1153.3 734.9,1151.9 745.0,1151.5 729.1,1153.1 747.7,1149.8 740.0,1150.7 756.9,1150.5 757.3,1147.4 751.3,1152.8 767.8,1148.3 745.9,1151.2 741.9,1152.2 793.4,1150.8 726.7,1153.1 775.3,1145.3 734.1,1152.6 800.0,1144.8 725.7,1153.1 795.9,1148.4 767.3,1148.2 787.6,1143.6 802.3,1146.7 754.9,1153.1 790.9,1144.0 753.3,1150.5 753.1,1149.6 788.3,1151.8 733.1,1152.4 771.1,1150.5 762.0,1152.1 787.7,1149.0 759.6,1154.8 766.0,1148.0 724.9,1153.0 791.6,1144.7 790.8,1147.8 738.3,1153.6 751.0,1149.2 727.9,1153.5 772.9,1144.5 791.5,1155.8 792.3,1155.0 765.8,1151.7 731.0,1152.2 765.2,1153.1 766.2,1151.4 754.6,1151.1 778.4,1149.9 729.5,1153.0 784.4,1145.4 767.0,1154.6 767.2,1147.9 744.2,1153.6 763.4,1149.1 739.5,1151.0 777.7,1153.7 772.6,1154.8 793.4,1143.0 737.9,1151.2 725.9,1153.1 757.6,1146.9 764.4,1147.8 766.5,1153.8 783.0,1152.9 739.7,1150.5 737.8,1151.2 764.5,1152.3 732.2,1152.8 796.3,1150.6 739.2,1150.5 745.5,1152.1 733.9,1153.1 770.5,1146.9 773.0,1149.2 734.7,1152.9 772.4,1155.1 752.2,1152.1 736.7,1153.2 784.0,1143.5 726.6,1153.1 729.7,1153.2 741.7,1151.7 792.9,1147.8 771.7,1150.5 745.7,1153.9 738.2,1153.4 752.9,1146.7 769.4,1153.8 772.8,1152.2 785.4,1154.2 784.5,1155.8 737.1,1152.8 752.6,1154.4 766.8,1148.6 782.3,1145.6 797.9,1152.7 730.5,1152.7 724.2,1153.0 729.9,1152.9 784.6,1150.9 777.8,1147.7 729.4,1153.6 724.2,1153.0 756.9,1148.1 723.1,1153.0 745.4,1153.2 776.2,1150.1 777.0,1148.8 798.1,1155.0 738.4,1151.0 740.6,1151.6 756.3,1152.2 776.4,1148.1 794.7,1155.0 778.1,1148.6 762.8,1154.5 760.5,1146.7 793.3,1150.1 795.1,1153.6 792.2,1143.2 726.7,1153.1 790.6,1143.1 762.0,1154.8 742.9,1150.2 775.8,1150.3 737.1,1151.7 795.0,1143.4 734.9,1151.5 774.5,1145.4 758.0,1148.9 787.6,1156.0 796.2,1145.5 766.5,1149.7 732.1,1153.1 763.1,1146.6 759.9,1150.9 759.2,1148.6 732.9,1153.4 799.6,1146.1 776.0,1149.2 783.0,1151.1 766.7,1146.3 746.8,1151.7 777.6,1148.8 739.9,1152.4 755.6,1152.8 793.5,1155.3 738.1,1150.8 783.4,1153.4 733.5,1153.6 755.5,1150.7 728.1,1153.0 797.7,1146.3 779.8,1155.1 800.1,1155.4 777.6,1148.3 751.0,1152.7 799.1,1142.0 801.1,1154.9 739.6,1150.8 794.1,1145.5 780.1,1147.3 754.9,1146.3 740.7,1152.6 802.1,1155.2 759.1,1146.0" fill="none" stroke="none" marker-start="url(#mr)" marker-mid="url(#mr)" marker-end="url(#mr)"/>
</g>
<rect x="135.6" y="813.1" width="864.5" height="561.7" fill="none" stroke="#000" stroke-width="2.08"/>
<path d="M174.7,1374.8 v9.1 M305.7,1374.8 v9.1 M436.8,1374.8 v9.1 M567.8,1374.8 v9.1 M698.8,1374.8 v9.1 M829.9,1374.8 v9.1 M960.9,1374.8 v9.1 M135.6,1314.2 h-9.1 M135.6,1202.4 h-9.1 M135.6,1090.5 h-9.1 M135.6,978.7 h-9.1 M135.6,866.8 h-9.1" stroke="#000" stroke-width="2.08" fill="none"/>
<text x="174.7" y="1412.9" text-anchor="middle">150</text>
<text x="305.7" y="1412.9" text-anchor="middle">200</text>
<text x="436.8" y="1412.9" text-anchor="middle">250</text>
<text x="567.8" y="1412.9" text-anchor="middle">300</text>
<text x="698.8" y="1412.9" text-anchor="middle">350</text>
<text x="829.9" y="1412.9" text-anchor="middle">400</text>
<text x="960.9" y="1412.9" text-anchor="middle">450</text>
<text x="117.3" y="1324.6" text-anchor="end">200</text>
<text x="117.3" y="1212.8" text-anchor="end">400</text>
<text x="117.3" y="1100.9" text-anchor="end">600</text>
<text x="117.3" y="989.1" text-anchor="end">800</text>
<text x="117.3" y="877.2" text-anchor="end">1000</text>
<text x="567.9" y="1448.1" text-anchor="middle" textLength="211.2" lengthAdjust="spacing">Mass flow [kg/h]</text>
<text transform="translate(36.0,1094.0) rotate(-90)" text-anchor="middle">Pressure drop [mbar]</text>
<rect x="148.5" y="826.5" width="322.0" height="159.2" rx="5.2" fill="#fff" fill-opacity="0.8" stroke="#ccc" stroke-opacity="0.8" stroke-width="2.6"/>
<path d="M158.9,847.3 H209.9" stroke="#0000ff" stroke-width="3.9" stroke-linecap="square" fill="none"/>
<path d="M184.5,839.5 l-7.8,15.6 h15.6Z" fill="#0000ff" stroke="#0000ff" stroke-width="2.6" stroke-linejoin="miter"/>
<text x="230.6" y="856.2" style="letter-spacing:-0.08px">Simulation, 20°C</text>
<path d="M158.9,885.2 H209.9" stroke="#ff0000" stroke-width="3.9" stroke-linecap="square" fill="none"/>
<path d="M184.5,877.4 l-7.8,15.6 h15.6Z" fill="#ff0000" stroke="#ff0000" stroke-width="2.6" stroke-linejoin="miter"/>
<text x="230.6" y="894.2" style="letter-spacing:-0.08px">Simulation, 70°C</text>
<path transform="translate(184.5,923.0)" d="M0.00,-7.80 1.75,-2.41 7.42,-2.41 2.83,0.92 4.58,6.31 0.00,2.98 -4.58,6.31 -2.83,0.92 -7.42,-2.41 -1.75,-2.41Z" fill="#0000ff" stroke="#0000ff" stroke-width="2.6" stroke-linejoin="bevel"/>
<text x="230.6" y="932.2" style="letter-spacing:-0.08px">Experiment, 20°C</text>
<path transform="translate(184.5,960.9)" d="M0.00,-7.80 1.75,-2.41 7.42,-2.41 2.83,0.92 4.58,6.31 0.00,2.98 -4.58,6.31 -2.83,0.92 -7.42,-2.41 -1.75,-2.41Z" fill="#ff0000" stroke="#ff0000" stroke-width="2.6" stroke-linejoin="bevel"/>
<text x="230.6" y="970.2" style="letter-spacing:-0.08px">Experiment, 70°C</text>
<text class="cap" y="711.2" style="font-size:41px"><tspan x="523.5" dy="0.5" style="font-size:47px">(</tspan><tspan x="540.5" dy="-0.5" style="font-family:'DejaVu Serif','Liberation Serif',serif">a</tspan><tspan x="568.0" dy="0.5" style="font-size:47px">)</tspan></text>
<text class="cap" y="1523.8" style="font-size:41px"><tspan x="522.3" dy="0.5" style="font-size:47px">(</tspan><tspan x="541.8" dy="-0.5" style="font-family:'DejaVu Serif','Liberation Serif',serif">b</tspan><tspan x="568.8" dy="0.5" style="font-size:47px">)</tspan></text>
</svg></body></html>
